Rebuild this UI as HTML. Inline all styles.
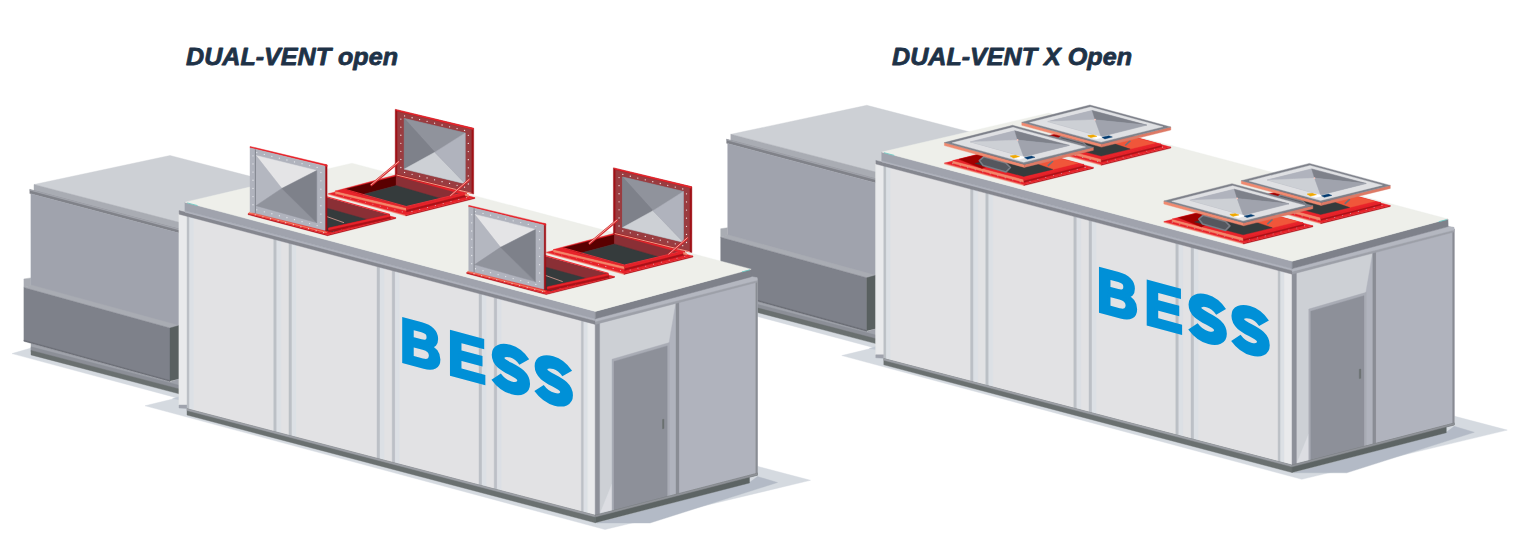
<!DOCTYPE html>
<html><head><meta charset="utf-8"><title>DUAL-VENT</title>
<style>
html,body{margin:0;padding:0;background:#fff;}
body{width:1536px;height:552px;overflow:hidden;position:relative;font-family:"Liberation Sans",sans-serif;}
svg{position:absolute;left:0;top:0;display:block}
</style></head><body>
<svg width="1536" height="552" viewBox="0 0 1536 552">
<rect width="1536" height="552" fill="#ffffff"/>
<g transform="translate(696.8 -50.2)">
<polygon points="12.00,353.60 31.00,348.00 179.00,388.00 179.00,398.40" fill="#d5dae0" stroke="#d5dae0" stroke-width="0.4" stroke-linejoin="round"/>
<polygon points="145.00,405.75 179.00,397.50 600.00,500.00 757.00,466.00 760.00,467.00 810.50,480.30 605.00,529.50" fill="#d5dae0" stroke="#d5dae0" stroke-width="0.4" stroke-linejoin="round"/>
<polygon points="597.00,523.00 650.00,523.00 777.50,482.50 757.50,476.50 749.00,482.75" fill="#b3bac6" stroke="#b3bac6" stroke-width="0.4" stroke-linejoin="round"/>
<polygon points="34.00,184.50 170.00,155.50 330.00,197.00 200.00,228.00" fill="#cdd0d5" stroke="#cdd0d5" stroke-width="0.4" stroke-linejoin="round"/>
<polygon points="34.00,184.50 179.00,222.30 179.00,229.40 34.00,190.90" fill="#a9acb3" stroke="#a9acb3" stroke-width="0.4" stroke-linejoin="round"/>
<polygon points="29.80,189.48 179.00,229.10 179.00,233.10 29.80,193.48" fill="#808289" stroke="#808289" stroke-width="0.4" stroke-linejoin="round"/>
<polygon points="29.80,189.48 179.00,229.10 179.00,229.90 29.80,190.28" fill="#a4a7af" stroke="#a4a7af" stroke-width="0.4" stroke-linejoin="round"/>
<polygon points="30.90,193.78 179.00,233.10 179.00,330.00 30.90,286.00" fill="#a0a3ad" stroke="#a0a3ad" stroke-width="0.4" stroke-linejoin="round"/>
<polygon points="23.90,278.90 30.90,277.90 30.90,285.50 23.90,287.50" fill="#a9acb3" stroke="#a9acb3" stroke-width="0.4" stroke-linejoin="round"/>
<polygon points="23.90,287.50 30.90,284.90 179.00,325.50 179.00,329.00 170.00,328.00" fill="#a9acb3" stroke="#a9acb3" stroke-width="0.4" stroke-linejoin="round"/>
<polygon points="23.90,287.50 170.00,328.00 170.00,381.00 23.90,340.70" fill="#7e818a" stroke="#7e818a" stroke-width="0.4" stroke-linejoin="round"/>
<polygon points="170.00,328.00 179.00,325.50 179.00,379.00 170.00,381.00" fill="#596060" stroke="#596060" stroke-width="0.4" stroke-linejoin="round"/>
<polygon points="31.00,343.20 170.00,381.70 179.00,379.00 179.00,390.00 31.00,351.60" fill="#9fa2aa" stroke="#9fa2aa" stroke-width="0.4" stroke-linejoin="round"/>
<polygon points="31.00,346.80 179.00,385.20 179.00,390.00 31.00,351.60" fill="#8c8f97" stroke="#8c8f97" stroke-width="0.4" stroke-linejoin="round"/>
<polygon points="31.00,350.40 179.00,388.90 179.00,393.80 31.00,354.90" fill="#6a7070" stroke="#6a7070" stroke-width="0.4" stroke-linejoin="round"/>
<polygon points="23.90,340.20 170.00,380.50 170.00,381.60 23.90,341.30" fill="#696c74" stroke="#696c74" stroke-width="0.4" stroke-linejoin="round"/>
<polygon points="172.60,398.60 179.00,396.70 179.00,399.80" fill="#c3cad4" stroke="#c3cad4" stroke-width="0.4" stroke-linejoin="round"/>
<polygon points="179.00,212.00 595.25,320.00 595.25,515.25 187.00,408.75 187.00,405.00 179.00,405.00" fill="#e2e2e4" stroke="#e2e2e4" stroke-width="0.4" stroke-linejoin="round"/>
<polygon points="179.00,213.00 187.00,215.50 187.00,405.00 179.00,405.00" fill="#e9eaec" stroke="#e9eaec" stroke-width="0.4" stroke-linejoin="round"/>
<polygon points="179.00,405.00 187.00,405.00 187.00,408.50 179.00,408.00" fill="#a0a3ad" stroke="#a0a3ad" stroke-width="0.4" stroke-linejoin="round"/>
<polygon points="187.00,215.78 189.50,216.43 189.50,409.40 187.00,408.75" fill="#bcc0c6" stroke="#bcc0c6" stroke-width="0.4" stroke-linejoin="round"/>
<polygon points="189.50,216.43 193.50,217.46 193.50,410.45 189.50,409.40" fill="#dce0e5" stroke="#dce0e5" stroke-width="0.4" stroke-linejoin="round"/>
<polygon points="273.75,238.30 276.75,239.08 276.75,432.17 273.75,431.38" fill="#bcc0c6" stroke="#bcc0c6" stroke-width="0.4" stroke-linejoin="round"/>
<polygon points="276.75,239.08 280.75,240.11 280.75,433.21 276.75,432.17" fill="#dce0e5" stroke="#dce0e5" stroke-width="0.4" stroke-linejoin="round"/>
<polygon points="288.95,242.24 291.95,243.02 291.95,436.13 288.95,435.35" fill="#bcc0c6" stroke="#bcc0c6" stroke-width="0.4" stroke-linejoin="round"/>
<polygon points="291.95,243.02 295.95,244.06 295.95,437.18 291.95,436.13" fill="#dce0e5" stroke="#dce0e5" stroke-width="0.4" stroke-linejoin="round"/>
<polygon points="377.00,265.10 380.00,265.88 380.00,459.10 377.00,458.32" fill="#bcc0c6" stroke="#bcc0c6" stroke-width="0.4" stroke-linejoin="round"/>
<polygon points="380.00,265.88 384.00,266.92 384.00,460.15 380.00,459.10" fill="#dce0e5" stroke="#dce0e5" stroke-width="0.4" stroke-linejoin="round"/>
<polygon points="392.20,269.05 395.20,269.83 395.20,463.07 392.20,462.29" fill="#bcc0c6" stroke="#bcc0c6" stroke-width="0.4" stroke-linejoin="round"/>
<polygon points="395.20,269.83 399.20,270.86 399.20,464.11 395.20,463.07" fill="#dce0e5" stroke="#dce0e5" stroke-width="0.4" stroke-linejoin="round"/>
<polygon points="479.00,291.58 482.00,292.36 482.00,485.72 479.00,484.93" fill="#bcc0c6" stroke="#bcc0c6" stroke-width="0.4" stroke-linejoin="round"/>
<polygon points="482.00,292.36 486.00,293.40 486.00,486.76 482.00,485.72" fill="#dce0e5" stroke="#dce0e5" stroke-width="0.4" stroke-linejoin="round"/>
<polygon points="494.20,295.53 497.20,296.30 497.20,489.68 494.20,488.90" fill="#bcc0c6" stroke="#bcc0c6" stroke-width="0.4" stroke-linejoin="round"/>
<polygon points="497.20,296.30 501.20,297.34 501.20,490.72 497.20,489.68" fill="#dce0e5" stroke="#dce0e5" stroke-width="0.4" stroke-linejoin="round"/>
<polygon points="581.30,318.14 583.80,318.79 583.80,512.28 581.30,511.62" fill="#bcc0c6" stroke="#bcc0c6" stroke-width="0.4" stroke-linejoin="round"/>
<polygon points="583.80,318.79 587.70,319.80 587.70,513.29 583.80,512.28" fill="#dce0e5" stroke="#dce0e5" stroke-width="0.4" stroke-linejoin="round"/>
<polygon points="587.70,319.80 595.40,321.80 595.40,515.30 587.70,513.29" fill="#e9eaec" stroke="#e9eaec" stroke-width="0.4" stroke-linejoin="round"/>
<polygon points="187.00,408.75 595.25,515.25 595.25,522.75 187.00,415.00" fill="#6a7070" stroke="#6a7070" stroke-width="0.4" stroke-linejoin="round"/>
<polygon points="187.00,408.75 595.25,515.25 595.25,517.00 187.00,410.50" fill="#9da0a6" stroke="#9da0a6" stroke-width="0.4" stroke-linejoin="round"/>
<polygon points="595.25,320.50 757.50,279.21 757.50,473.11 595.25,515.25" fill="#cdd0d5" stroke="#cdd0d5" stroke-width="0.4" stroke-linejoin="round"/>
<polygon points="595.25,320.50 599.60,319.39 599.60,514.12 595.25,515.25" fill="#8d9099" stroke="#8d9099" stroke-width="0.4" stroke-linejoin="round"/>
<polygon points="669.00,343.00 676.00,301.95 676.00,494.28 669.00,496.10" fill="#b0b3bd" stroke="#b0b3bd" stroke-width="0.4" stroke-linejoin="round"/>
<polygon points="600.50,512.50 612.00,484.00 612.00,510.00" fill="#dcdde2" stroke="#dcdde2" stroke-width="0.4" stroke-linejoin="round"/>
<polygon points="612.00,359.25 669.50,342.50 669.50,495.97 612.00,510.90" fill="#a9acb5" stroke="#a9acb5" stroke-width="0.4" stroke-linejoin="round"/>
<polygon points="614.00,361.40 667.20,345.90 667.20,496.56 614.00,510.38" fill="#8d9099" stroke="#8d9099" stroke-width="0.4" stroke-linejoin="round"/>
<polygon points="662.50,419.50 664.00,419.20 664.00,428.50 662.50,428.80" fill="#6a7070" stroke="#6a7070" stroke-width="0.4" stroke-linejoin="round"/>
<polygon points="676.00,299.95 679.50,299.06 679.50,493.37 676.00,494.28" fill="#8a8d95" stroke="#8a8d95" stroke-width="0.4" stroke-linejoin="round"/>
<polygon points="679.50,299.06 755.75,279.65 755.75,473.57 679.50,493.37" fill="#b0b3bd" stroke="#b0b3bd" stroke-width="0.4" stroke-linejoin="round"/>
<polygon points="755.75,279.65 757.50,279.21 757.50,473.11 755.75,473.57" fill="#8a8d95" stroke="#8a8d95" stroke-width="0.4" stroke-linejoin="round"/>
<polygon points="595.25,515.25 757.50,473.20 757.50,475.20 749.50,477.30 749.50,482.90 595.25,522.75" fill="#5d6464" stroke="#5d6464" stroke-width="0.4" stroke-linejoin="round"/>
<polygon points="595.25,515.25 757.50,473.20 757.50,475.00 595.25,517.00" fill="#8f9298" stroke="#8f9298" stroke-width="0.4" stroke-linejoin="round"/>
<polygon points="179.10,210.60 595.40,318.60 595.40,324.40 179.10,214.20" fill="#85878f" stroke="#85878f" stroke-width="0.4" stroke-linejoin="round"/>
<polygon points="185.00,210.30 595.40,318.60 595.40,320.80 185.00,212.20" fill="#b0b3bd" stroke="#b0b3bd" stroke-width="0.4" stroke-linejoin="round"/>
<polygon points="595.40,318.60 751.40,276.70 757.20,277.70 757.20,282.20 595.40,324.40" fill="#9da0a8" stroke="#9da0a8" stroke-width="0.4" stroke-linejoin="round"/>
<polygon points="595.40,318.60 751.40,276.70 757.20,277.70 757.20,280.30 595.40,321.60" fill="#b4b7c0" stroke="#b4b7c0" stroke-width="0.4" stroke-linejoin="round"/>
<polygon points="184.90,202.20 595.40,311.40 595.40,318.80 184.90,210.60" fill="#a0a3ad" stroke="#a0a3ad" stroke-width="0.4" stroke-linejoin="round"/>
<polygon points="595.40,311.40 751.20,269.20 751.40,276.80 595.40,318.80" fill="#7e818a" stroke="#7e818a" stroke-width="0.4" stroke-linejoin="round"/>
<polygon points="184.90,202.20 352.00,163.20 751.20,269.20 595.40,311.40" fill="#eeefea" stroke="#eeefea" stroke-width="0.4" stroke-linejoin="round"/>
<line x1="187.20" y1="202.90" x2="197.50" y2="205.60" stroke="#62c8c2" stroke-width="0.8" />
<line x1="742.00" y1="271.90" x2="750.00" y2="269.80" stroke="#62c8c2" stroke-width="0.8" />
<text transform="matrix(0.927 0.2466 0 1 399.9 360.70)" font-family="Liberation Sans, sans-serif" font-weight="700" font-size="61.8" fill="#0090d7" stroke="#0090d7" stroke-width="3.5" stroke-linejoin="miter">B</text>
<text transform="matrix(0.927 0.2466 0 1 447.7 373.41)" font-family="Liberation Sans, sans-serif" font-weight="700" font-size="61.8" fill="#0090d7" stroke="#0090d7" stroke-width="3.5" stroke-linejoin="miter">E</text>
<path transform="matrix(1.035 0.2753 0 1.04 491.59999999999997 388.29)" d="M 31.6,-33.6 C 27.6,-38.4 23.0,-40.5 18.2,-40.5 C 11.0,-40.5 6.3,-37.2 6.3,-32.4 C 6.3,-27.0 10.8,-25.3 18.4,-23.5 C 26.4,-21.6 31.0,-19.6 31.0,-14.0 C 31.0,-8.8 26.2,-5.5 19.2,-5.5 C 13.2,-5.5 8.6,-7.8 4.4,-12.4" fill="none" stroke="#0090d7" stroke-width="12.3" stroke-linecap="butt"/>
<path transform="matrix(1.035 0.2753 0 1.04 534.5 399.70)" d="M 31.6,-33.6 C 27.6,-38.4 23.0,-40.5 18.2,-40.5 C 11.0,-40.5 6.3,-37.2 6.3,-32.4 C 6.3,-27.0 10.8,-25.3 18.4,-23.5 C 26.4,-21.6 31.0,-19.6 31.0,-14.0 C 31.0,-8.8 26.2,-5.5 19.2,-5.5 C 13.2,-5.5 8.6,-7.8 4.4,-12.4" fill="none" stroke="#0090d7" stroke-width="12.3" stroke-linecap="butt"/>
</g>
<polygon points="1021.80,142.80 1101.30,164.30 1101.30,165.30 1021.80,143.80" fill="#f4907a" stroke="#f4907a" stroke-width="0.4" stroke-linejoin="round"/>
<polygon points="1101.30,164.30 1170.80,147.10 1170.80,148.10 1101.30,165.30" fill="#b01218" stroke="#b01218" stroke-width="0.4" stroke-linejoin="round"/>
<polygon points="1021.80,142.80 1101.30,164.30 1170.80,147.10 1091.30,125.60" fill="#e8232a" stroke="#e8232a" stroke-width="0.4" stroke-linejoin="round"/>
<circle cx="1030.15" cy="143.40" r="0.6" fill="#b9a9ad"/>
<circle cx="1037.65" cy="145.40" r="0.6" fill="#b9a9ad"/>
<circle cx="1045.15" cy="147.40" r="0.6" fill="#b9a9ad"/>
<circle cx="1052.65" cy="149.40" r="0.6" fill="#b9a9ad"/>
<circle cx="1060.15" cy="151.40" r="0.6" fill="#b9a9ad"/>
<circle cx="1067.65" cy="153.40" r="0.6" fill="#b9a9ad"/>
<circle cx="1075.15" cy="155.40" r="0.6" fill="#b9a9ad"/>
<circle cx="1082.65" cy="157.40" r="0.6" fill="#b9a9ad"/>
<circle cx="1090.15" cy="159.40" r="0.6" fill="#b9a9ad"/>
<circle cx="1097.65" cy="161.40" r="0.6" fill="#b9a9ad"/>
<circle cx="1107.34" cy="160.91" r="0.55" fill="#c9b9bd"/>
<circle cx="1115.21" cy="158.94" r="0.55" fill="#c9b9bd"/>
<circle cx="1123.09" cy="156.96" r="0.55" fill="#c9b9bd"/>
<circle cx="1130.96" cy="154.99" r="0.55" fill="#c9b9bd"/>
<circle cx="1138.84" cy="153.01" r="0.55" fill="#c9b9bd"/>
<circle cx="1146.71" cy="151.04" r="0.55" fill="#c9b9bd"/>
<circle cx="1154.59" cy="149.06" r="0.55" fill="#c9b9bd"/>
<circle cx="1162.46" cy="147.09" r="0.55" fill="#c9b9bd"/>
<polygon points="1030.10,140.30 1101.30,159.10 1101.30,162.00 1030.10,142.90" fill="#f4866a" stroke="#f4866a" stroke-width="0.4" stroke-linejoin="round"/>
<polygon points="1101.30,159.10 1160.90,144.10 1161.70,146.70 1101.30,162.10" fill="#a81218" stroke="#a81218" stroke-width="0.4" stroke-linejoin="round"/>
<polygon points="1101.30,159.10 1160.90,144.10 1160.90,145.30 1101.30,160.30" fill="#e8232a" stroke="#e8232a" stroke-width="0.4" stroke-linejoin="round"/>
<polygon points="1030.10,140.30 1101.30,159.10 1160.90,144.10 1089.70,125.30" fill="#e8232a" stroke="#e8232a" stroke-width="0.4" stroke-linejoin="round"/>
<polygon points="1036.40,139.00 1090.70,125.80 1090.70,133.80 1059.40,148.20" fill="#a00000" stroke="#a00000" stroke-width="0.4" stroke-linejoin="round"/>
<polygon points="1090.70,125.80 1155.40,142.90 1130.20,149.10 1090.70,137.80" fill="#f0563a" stroke="#f0563a" stroke-width="0.4" stroke-linejoin="round"/>
<polygon points="1052.40,143.20 1090.40,133.20 1117.40,144.70 1130.20,149.10 1101.10,156.10" fill="#353b3c" stroke="#353b3c" stroke-width="0.4" stroke-linejoin="round"/>
<polygon points="1056.70,140.30 1061.10,136.50 1083.40,142.80 1087.80,147.20 1083.40,151.70 1060.50,145.30" fill="#54575e" stroke="#7a7d85" stroke-width="1.6" stroke-linejoin="round"/>
<line x1="1125.20" y1="145.50" x2="1130.40" y2="140.70" stroke="#6f727a" stroke-width="1.6" />
<polygon points="1021.80,122.30 1101.70,144.10 1101.70,147.10 1021.80,125.30" fill="#f08a70" stroke="#f08a70" stroke-width="0.4" stroke-linejoin="round"/>
<polygon points="1101.70,144.10 1170.80,127.00 1170.80,130.00 1101.70,147.10" fill="#dd7a66" stroke="#dd7a66" stroke-width="0.4" stroke-linejoin="round"/>
<polygon points="1021.80,122.30 1089.90,105.00 1170.80,127.00 1101.70,144.10" fill="#7e818a" stroke="#7e818a" stroke-width="0.4" stroke-linejoin="round"/>
<polygon points="1029.60,122.54 1090.55,107.06 1162.95,126.75 1101.11,142.05" fill="#dfe0e3" stroke="#dfe0e3" stroke-width="0.4" stroke-linejoin="round"/>
<polygon points="1047.80,121.60 1092.20,110.50 1146.70,125.10 1101.10,136.50" fill="#b0b3bd" stroke="#b0b3bd" stroke-width="0.4" stroke-linejoin="round"/>
<polygon points="1047.80,121.60 1092.20,110.50 1095.00,119.70" fill="#b0b3bd" stroke="#b0b3bd" stroke-width="0.4" stroke-linejoin="round"/>
<polygon points="1092.20,110.50 1146.70,125.10 1095.00,119.70" fill="#7e818a" stroke="#7e818a" stroke-width="0.4" stroke-linejoin="round"/>
<polygon points="1047.80,121.60 1101.10,136.50 1095.00,119.70" fill="#cdd0d5" stroke="#cdd0d5" stroke-width="0.4" stroke-linejoin="round"/>
<polygon points="1101.10,136.50 1146.70,125.10 1095.00,119.70" fill="#a0a3ad" stroke="#a0a3ad" stroke-width="0.4" stroke-linejoin="round"/>
<circle cx="1095.00" cy="119.70" r="0.9" fill="#f6c6c0"/>
<polygon points="1087.80,135.70 1093.40,135.10 1097.00,136.30 1091.20,137.60" fill="#f0a800" stroke="#f0a800" stroke-width="0.4" stroke-linejoin="round"/>
<polygon points="1093.40,135.10 1097.00,136.30 1091.20,137.60 1096.40,139.10 1103.20,137.30 1099.40,136.00" fill="#ffffff" stroke="#ffffff" stroke-width="0.4" stroke-linejoin="round"/>
<polygon points="1087.80,135.70 1093.40,135.10 1097.00,136.30 1091.20,137.60" fill="#f0a800" stroke="#f0a800" stroke-width="0.4" stroke-linejoin="round"/>
<polygon points="1101.90,137.30 1108.90,135.70 1112.40,137.00 1104.90,138.90" fill="#003a70" stroke="#003a70" stroke-width="0.4" stroke-linejoin="round"/>
<polygon points="944.40,163.10 1023.90,184.60 1023.90,185.60 944.40,164.10" fill="#f4907a" stroke="#f4907a" stroke-width="0.4" stroke-linejoin="round"/>
<polygon points="1023.90,184.60 1093.40,167.40 1093.40,168.40 1023.90,185.60" fill="#b01218" stroke="#b01218" stroke-width="0.4" stroke-linejoin="round"/>
<polygon points="944.40,163.10 1023.90,184.60 1093.40,167.40 1013.90,145.90" fill="#e8232a" stroke="#e8232a" stroke-width="0.4" stroke-linejoin="round"/>
<circle cx="952.75" cy="163.70" r="0.6" fill="#b9a9ad"/>
<circle cx="960.25" cy="165.70" r="0.6" fill="#b9a9ad"/>
<circle cx="967.75" cy="167.70" r="0.6" fill="#b9a9ad"/>
<circle cx="975.25" cy="169.70" r="0.6" fill="#b9a9ad"/>
<circle cx="982.75" cy="171.70" r="0.6" fill="#b9a9ad"/>
<circle cx="990.25" cy="173.70" r="0.6" fill="#b9a9ad"/>
<circle cx="997.75" cy="175.70" r="0.6" fill="#b9a9ad"/>
<circle cx="1005.25" cy="177.70" r="0.6" fill="#b9a9ad"/>
<circle cx="1012.75" cy="179.70" r="0.6" fill="#b9a9ad"/>
<circle cx="1020.25" cy="181.70" r="0.6" fill="#b9a9ad"/>
<circle cx="1029.94" cy="181.21" r="0.55" fill="#c9b9bd"/>
<circle cx="1037.81" cy="179.24" r="0.55" fill="#c9b9bd"/>
<circle cx="1045.69" cy="177.26" r="0.55" fill="#c9b9bd"/>
<circle cx="1053.56" cy="175.29" r="0.55" fill="#c9b9bd"/>
<circle cx="1061.44" cy="173.31" r="0.55" fill="#c9b9bd"/>
<circle cx="1069.31" cy="171.34" r="0.55" fill="#c9b9bd"/>
<circle cx="1077.19" cy="169.36" r="0.55" fill="#c9b9bd"/>
<circle cx="1085.06" cy="167.39" r="0.55" fill="#c9b9bd"/>
<polygon points="952.70,160.60 1023.90,179.40 1023.90,182.30 952.70,163.20" fill="#f4866a" stroke="#f4866a" stroke-width="0.4" stroke-linejoin="round"/>
<polygon points="1023.90,179.40 1083.50,164.40 1084.30,167.00 1023.90,182.40" fill="#a81218" stroke="#a81218" stroke-width="0.4" stroke-linejoin="round"/>
<polygon points="1023.90,179.40 1083.50,164.40 1083.50,165.60 1023.90,180.60" fill="#e8232a" stroke="#e8232a" stroke-width="0.4" stroke-linejoin="round"/>
<polygon points="952.70,160.60 1023.90,179.40 1083.50,164.40 1012.30,145.60" fill="#e8232a" stroke="#e8232a" stroke-width="0.4" stroke-linejoin="round"/>
<polygon points="959.00,159.30 1013.30,146.10 1013.30,154.10 982.00,168.50" fill="#a00000" stroke="#a00000" stroke-width="0.4" stroke-linejoin="round"/>
<polygon points="1013.30,146.10 1078.00,163.20 1052.80,169.40 1013.30,158.10" fill="#f0563a" stroke="#f0563a" stroke-width="0.4" stroke-linejoin="round"/>
<polygon points="975.00,163.50 1013.00,153.50 1040.00,165.00 1052.80,169.40 1023.70,176.40" fill="#353b3c" stroke="#353b3c" stroke-width="0.4" stroke-linejoin="round"/>
<polygon points="979.30,160.60 983.70,156.80 1006.00,163.10 1010.40,167.50 1006.00,172.00 983.10,165.60" fill="#54575e" stroke="#7a7d85" stroke-width="1.6" stroke-linejoin="round"/>
<line x1="1047.80" y1="165.80" x2="1053.00" y2="161.00" stroke="#6f727a" stroke-width="1.6" />
<polygon points="944.40,142.60 1024.30,164.40 1024.30,167.40 944.40,145.60" fill="#f08a70" stroke="#f08a70" stroke-width="0.4" stroke-linejoin="round"/>
<polygon points="1024.30,164.40 1093.40,147.30 1093.40,150.30 1024.30,167.40" fill="#dd7a66" stroke="#dd7a66" stroke-width="0.4" stroke-linejoin="round"/>
<polygon points="944.40,142.60 1012.50,125.30 1093.40,147.30 1024.30,164.40" fill="#7e818a" stroke="#7e818a" stroke-width="0.4" stroke-linejoin="round"/>
<polygon points="952.20,142.84 1013.15,127.36 1085.55,147.05 1023.71,162.35" fill="#dfe0e3" stroke="#dfe0e3" stroke-width="0.4" stroke-linejoin="round"/>
<polygon points="970.40,141.90 1014.80,130.80 1069.30,145.40 1023.70,156.80" fill="#b0b3bd" stroke="#b0b3bd" stroke-width="0.4" stroke-linejoin="round"/>
<polygon points="970.40,141.90 1014.80,130.80 1017.60,140.00" fill="#b0b3bd" stroke="#b0b3bd" stroke-width="0.4" stroke-linejoin="round"/>
<polygon points="1014.80,130.80 1069.30,145.40 1017.60,140.00" fill="#7e818a" stroke="#7e818a" stroke-width="0.4" stroke-linejoin="round"/>
<polygon points="970.40,141.90 1023.70,156.80 1017.60,140.00" fill="#cdd0d5" stroke="#cdd0d5" stroke-width="0.4" stroke-linejoin="round"/>
<polygon points="1023.70,156.80 1069.30,145.40 1017.60,140.00" fill="#a0a3ad" stroke="#a0a3ad" stroke-width="0.4" stroke-linejoin="round"/>
<circle cx="1017.60" cy="140.00" r="0.9" fill="#f6c6c0"/>
<polygon points="1010.40,156.00 1016.00,155.40 1019.60,156.60 1013.80,157.90" fill="#f0a800" stroke="#f0a800" stroke-width="0.4" stroke-linejoin="round"/>
<polygon points="1016.00,155.40 1019.60,156.60 1013.80,157.90 1019.00,159.40 1025.80,157.60 1022.00,156.30" fill="#ffffff" stroke="#ffffff" stroke-width="0.4" stroke-linejoin="round"/>
<polygon points="1010.40,156.00 1016.00,155.40 1019.60,156.60 1013.80,157.90" fill="#f0a800" stroke="#f0a800" stroke-width="0.4" stroke-linejoin="round"/>
<polygon points="1024.50,157.60 1031.50,156.00 1035.00,157.30 1027.50,159.20" fill="#003a70" stroke="#003a70" stroke-width="0.4" stroke-linejoin="round"/>
<polygon points="1241.30,201.20 1320.80,222.70 1320.80,223.70 1241.30,202.20" fill="#f4907a" stroke="#f4907a" stroke-width="0.4" stroke-linejoin="round"/>
<polygon points="1320.80,222.70 1390.30,205.50 1390.30,206.50 1320.80,223.70" fill="#b01218" stroke="#b01218" stroke-width="0.4" stroke-linejoin="round"/>
<polygon points="1241.30,201.20 1320.80,222.70 1390.30,205.50 1310.80,184.00" fill="#e8232a" stroke="#e8232a" stroke-width="0.4" stroke-linejoin="round"/>
<circle cx="1249.65" cy="201.80" r="0.6" fill="#b9a9ad"/>
<circle cx="1257.15" cy="203.80" r="0.6" fill="#b9a9ad"/>
<circle cx="1264.65" cy="205.80" r="0.6" fill="#b9a9ad"/>
<circle cx="1272.15" cy="207.80" r="0.6" fill="#b9a9ad"/>
<circle cx="1279.65" cy="209.80" r="0.6" fill="#b9a9ad"/>
<circle cx="1287.15" cy="211.80" r="0.6" fill="#b9a9ad"/>
<circle cx="1294.65" cy="213.80" r="0.6" fill="#b9a9ad"/>
<circle cx="1302.15" cy="215.80" r="0.6" fill="#b9a9ad"/>
<circle cx="1309.65" cy="217.80" r="0.6" fill="#b9a9ad"/>
<circle cx="1317.15" cy="219.80" r="0.6" fill="#b9a9ad"/>
<circle cx="1326.84" cy="219.31" r="0.55" fill="#c9b9bd"/>
<circle cx="1334.71" cy="217.34" r="0.55" fill="#c9b9bd"/>
<circle cx="1342.59" cy="215.36" r="0.55" fill="#c9b9bd"/>
<circle cx="1350.46" cy="213.39" r="0.55" fill="#c9b9bd"/>
<circle cx="1358.34" cy="211.41" r="0.55" fill="#c9b9bd"/>
<circle cx="1366.21" cy="209.44" r="0.55" fill="#c9b9bd"/>
<circle cx="1374.09" cy="207.46" r="0.55" fill="#c9b9bd"/>
<circle cx="1381.96" cy="205.49" r="0.55" fill="#c9b9bd"/>
<polygon points="1249.60,198.70 1320.80,217.50 1320.80,220.40 1249.60,201.30" fill="#f4866a" stroke="#f4866a" stroke-width="0.4" stroke-linejoin="round"/>
<polygon points="1320.80,217.50 1380.40,202.50 1381.20,205.10 1320.80,220.50" fill="#a81218" stroke="#a81218" stroke-width="0.4" stroke-linejoin="round"/>
<polygon points="1320.80,217.50 1380.40,202.50 1380.40,203.70 1320.80,218.70" fill="#e8232a" stroke="#e8232a" stroke-width="0.4" stroke-linejoin="round"/>
<polygon points="1249.60,198.70 1320.80,217.50 1380.40,202.50 1309.20,183.70" fill="#e8232a" stroke="#e8232a" stroke-width="0.4" stroke-linejoin="round"/>
<polygon points="1255.90,197.40 1310.20,184.20 1310.20,192.20 1278.90,206.60" fill="#a00000" stroke="#a00000" stroke-width="0.4" stroke-linejoin="round"/>
<polygon points="1310.20,184.20 1374.90,201.30 1349.70,207.50 1310.20,196.20" fill="#f0563a" stroke="#f0563a" stroke-width="0.4" stroke-linejoin="round"/>
<polygon points="1271.90,201.60 1309.90,191.60 1336.90,203.10 1349.70,207.50 1320.60,214.50" fill="#353b3c" stroke="#353b3c" stroke-width="0.4" stroke-linejoin="round"/>
<polygon points="1276.20,198.70 1280.60,194.90 1302.90,201.20 1307.30,205.60 1302.90,210.10 1280.00,203.70" fill="#54575e" stroke="#7a7d85" stroke-width="1.6" stroke-linejoin="round"/>
<line x1="1344.70" y1="203.90" x2="1349.90" y2="199.10" stroke="#6f727a" stroke-width="1.6" />
<polygon points="1241.30,180.70 1321.20,202.50 1321.20,205.50 1241.30,183.70" fill="#f08a70" stroke="#f08a70" stroke-width="0.4" stroke-linejoin="round"/>
<polygon points="1321.20,202.50 1390.30,185.40 1390.30,188.40 1321.20,205.50" fill="#dd7a66" stroke="#dd7a66" stroke-width="0.4" stroke-linejoin="round"/>
<polygon points="1241.30,180.70 1309.40,163.40 1390.30,185.40 1321.20,202.50" fill="#7e818a" stroke="#7e818a" stroke-width="0.4" stroke-linejoin="round"/>
<polygon points="1249.10,180.94 1310.05,165.46 1382.45,185.15 1320.61,200.45" fill="#dfe0e3" stroke="#dfe0e3" stroke-width="0.4" stroke-linejoin="round"/>
<polygon points="1267.30,180.00 1311.70,168.90 1366.20,183.50 1320.60,194.90" fill="#b0b3bd" stroke="#b0b3bd" stroke-width="0.4" stroke-linejoin="round"/>
<polygon points="1267.30,180.00 1311.70,168.90 1314.50,178.10" fill="#b0b3bd" stroke="#b0b3bd" stroke-width="0.4" stroke-linejoin="round"/>
<polygon points="1311.70,168.90 1366.20,183.50 1314.50,178.10" fill="#7e818a" stroke="#7e818a" stroke-width="0.4" stroke-linejoin="round"/>
<polygon points="1267.30,180.00 1320.60,194.90 1314.50,178.10" fill="#cdd0d5" stroke="#cdd0d5" stroke-width="0.4" stroke-linejoin="round"/>
<polygon points="1320.60,194.90 1366.20,183.50 1314.50,178.10" fill="#a0a3ad" stroke="#a0a3ad" stroke-width="0.4" stroke-linejoin="round"/>
<circle cx="1314.50" cy="178.10" r="0.9" fill="#f6c6c0"/>
<polygon points="1307.30,194.10 1312.90,193.50 1316.50,194.70 1310.70,196.00" fill="#f0a800" stroke="#f0a800" stroke-width="0.4" stroke-linejoin="round"/>
<polygon points="1312.90,193.50 1316.50,194.70 1310.70,196.00 1315.90,197.50 1322.70,195.70 1318.90,194.40" fill="#ffffff" stroke="#ffffff" stroke-width="0.4" stroke-linejoin="round"/>
<polygon points="1307.30,194.10 1312.90,193.50 1316.50,194.70 1310.70,196.00" fill="#f0a800" stroke="#f0a800" stroke-width="0.4" stroke-linejoin="round"/>
<polygon points="1321.40,195.70 1328.40,194.10 1331.90,195.40 1324.40,197.30" fill="#003a70" stroke="#003a70" stroke-width="0.4" stroke-linejoin="round"/>
<polygon points="1163.90,221.50 1243.40,243.00 1243.40,244.00 1163.90,222.50" fill="#f4907a" stroke="#f4907a" stroke-width="0.4" stroke-linejoin="round"/>
<polygon points="1243.40,243.00 1312.90,225.80 1312.90,226.80 1243.40,244.00" fill="#b01218" stroke="#b01218" stroke-width="0.4" stroke-linejoin="round"/>
<polygon points="1163.90,221.50 1243.40,243.00 1312.90,225.80 1233.40,204.30" fill="#e8232a" stroke="#e8232a" stroke-width="0.4" stroke-linejoin="round"/>
<circle cx="1172.25" cy="222.10" r="0.6" fill="#b9a9ad"/>
<circle cx="1179.75" cy="224.10" r="0.6" fill="#b9a9ad"/>
<circle cx="1187.25" cy="226.10" r="0.6" fill="#b9a9ad"/>
<circle cx="1194.75" cy="228.10" r="0.6" fill="#b9a9ad"/>
<circle cx="1202.25" cy="230.10" r="0.6" fill="#b9a9ad"/>
<circle cx="1209.75" cy="232.10" r="0.6" fill="#b9a9ad"/>
<circle cx="1217.25" cy="234.10" r="0.6" fill="#b9a9ad"/>
<circle cx="1224.75" cy="236.10" r="0.6" fill="#b9a9ad"/>
<circle cx="1232.25" cy="238.10" r="0.6" fill="#b9a9ad"/>
<circle cx="1239.75" cy="240.10" r="0.6" fill="#b9a9ad"/>
<circle cx="1249.44" cy="239.61" r="0.55" fill="#c9b9bd"/>
<circle cx="1257.31" cy="237.64" r="0.55" fill="#c9b9bd"/>
<circle cx="1265.19" cy="235.66" r="0.55" fill="#c9b9bd"/>
<circle cx="1273.06" cy="233.69" r="0.55" fill="#c9b9bd"/>
<circle cx="1280.94" cy="231.71" r="0.55" fill="#c9b9bd"/>
<circle cx="1288.81" cy="229.74" r="0.55" fill="#c9b9bd"/>
<circle cx="1296.69" cy="227.76" r="0.55" fill="#c9b9bd"/>
<circle cx="1304.56" cy="225.79" r="0.55" fill="#c9b9bd"/>
<polygon points="1172.20,219.00 1243.40,237.80 1243.40,240.70 1172.20,221.60" fill="#f4866a" stroke="#f4866a" stroke-width="0.4" stroke-linejoin="round"/>
<polygon points="1243.40,237.80 1303.00,222.80 1303.80,225.40 1243.40,240.80" fill="#a81218" stroke="#a81218" stroke-width="0.4" stroke-linejoin="round"/>
<polygon points="1243.40,237.80 1303.00,222.80 1303.00,224.00 1243.40,239.00" fill="#e8232a" stroke="#e8232a" stroke-width="0.4" stroke-linejoin="round"/>
<polygon points="1172.20,219.00 1243.40,237.80 1303.00,222.80 1231.80,204.00" fill="#e8232a" stroke="#e8232a" stroke-width="0.4" stroke-linejoin="round"/>
<polygon points="1178.50,217.70 1232.80,204.50 1232.80,212.50 1201.50,226.90" fill="#a00000" stroke="#a00000" stroke-width="0.4" stroke-linejoin="round"/>
<polygon points="1232.80,204.50 1297.50,221.60 1272.30,227.80 1232.80,216.50" fill="#f0563a" stroke="#f0563a" stroke-width="0.4" stroke-linejoin="round"/>
<polygon points="1194.50,221.90 1232.50,211.90 1259.50,223.40 1272.30,227.80 1243.20,234.80" fill="#353b3c" stroke="#353b3c" stroke-width="0.4" stroke-linejoin="round"/>
<polygon points="1198.80,219.00 1203.20,215.20 1225.50,221.50 1229.90,225.90 1225.50,230.40 1202.60,224.00" fill="#54575e" stroke="#7a7d85" stroke-width="1.6" stroke-linejoin="round"/>
<line x1="1267.30" y1="224.20" x2="1272.50" y2="219.40" stroke="#6f727a" stroke-width="1.6" />
<polygon points="1163.90,201.00 1243.80,222.80 1243.80,225.80 1163.90,204.00" fill="#f08a70" stroke="#f08a70" stroke-width="0.4" stroke-linejoin="round"/>
<polygon points="1243.80,222.80 1312.90,205.70 1312.90,208.70 1243.80,225.80" fill="#dd7a66" stroke="#dd7a66" stroke-width="0.4" stroke-linejoin="round"/>
<polygon points="1163.90,201.00 1232.00,183.70 1312.90,205.70 1243.80,222.80" fill="#7e818a" stroke="#7e818a" stroke-width="0.4" stroke-linejoin="round"/>
<polygon points="1171.70,201.24 1232.65,185.76 1305.05,205.45 1243.21,220.75" fill="#dfe0e3" stroke="#dfe0e3" stroke-width="0.4" stroke-linejoin="round"/>
<polygon points="1189.90,200.30 1234.30,189.20 1288.80,203.80 1243.20,215.20" fill="#b0b3bd" stroke="#b0b3bd" stroke-width="0.4" stroke-linejoin="round"/>
<polygon points="1189.90,200.30 1234.30,189.20 1237.10,198.40" fill="#b0b3bd" stroke="#b0b3bd" stroke-width="0.4" stroke-linejoin="round"/>
<polygon points="1234.30,189.20 1288.80,203.80 1237.10,198.40" fill="#7e818a" stroke="#7e818a" stroke-width="0.4" stroke-linejoin="round"/>
<polygon points="1189.90,200.30 1243.20,215.20 1237.10,198.40" fill="#cdd0d5" stroke="#cdd0d5" stroke-width="0.4" stroke-linejoin="round"/>
<polygon points="1243.20,215.20 1288.80,203.80 1237.10,198.40" fill="#a0a3ad" stroke="#a0a3ad" stroke-width="0.4" stroke-linejoin="round"/>
<circle cx="1237.10" cy="198.40" r="0.9" fill="#f6c6c0"/>
<polygon points="1229.90,214.40 1235.50,213.80 1239.10,215.00 1233.30,216.30" fill="#f0a800" stroke="#f0a800" stroke-width="0.4" stroke-linejoin="round"/>
<polygon points="1235.50,213.80 1239.10,215.00 1233.30,216.30 1238.50,217.80 1245.30,216.00 1241.50,214.70" fill="#ffffff" stroke="#ffffff" stroke-width="0.4" stroke-linejoin="round"/>
<polygon points="1229.90,214.40 1235.50,213.80 1239.10,215.00 1233.30,216.30" fill="#f0a800" stroke="#f0a800" stroke-width="0.4" stroke-linejoin="round"/>
<polygon points="1244.00,216.00 1251.00,214.40 1254.50,215.70 1247.00,217.60" fill="#003a70" stroke="#003a70" stroke-width="0.4" stroke-linejoin="round"/>
<g>
<polygon points="12.00,353.60 31.00,348.00 179.00,388.00 179.00,398.40" fill="#d5dae0" stroke="#d5dae0" stroke-width="0.4" stroke-linejoin="round"/>
<polygon points="145.00,405.75 179.00,397.50 600.00,500.00 757.00,466.00 760.00,467.00 810.50,480.30 605.00,529.50" fill="#d5dae0" stroke="#d5dae0" stroke-width="0.4" stroke-linejoin="round"/>
<polygon points="597.00,523.00 650.00,523.00 777.50,482.50 757.50,476.50 749.00,482.75" fill="#b3bac6" stroke="#b3bac6" stroke-width="0.4" stroke-linejoin="round"/>
<polygon points="34.00,184.50 170.00,155.50 330.00,197.00 200.00,228.00" fill="#cdd0d5" stroke="#cdd0d5" stroke-width="0.4" stroke-linejoin="round"/>
<polygon points="34.00,184.50 179.00,222.30 179.00,229.40 34.00,190.90" fill="#a9acb3" stroke="#a9acb3" stroke-width="0.4" stroke-linejoin="round"/>
<polygon points="29.80,189.48 179.00,229.10 179.00,233.10 29.80,193.48" fill="#808289" stroke="#808289" stroke-width="0.4" stroke-linejoin="round"/>
<polygon points="29.80,189.48 179.00,229.10 179.00,229.90 29.80,190.28" fill="#a4a7af" stroke="#a4a7af" stroke-width="0.4" stroke-linejoin="round"/>
<polygon points="30.90,193.78 179.00,233.10 179.00,330.00 30.90,286.00" fill="#a0a3ad" stroke="#a0a3ad" stroke-width="0.4" stroke-linejoin="round"/>
<polygon points="23.90,278.90 30.90,277.90 30.90,285.50 23.90,287.50" fill="#a9acb3" stroke="#a9acb3" stroke-width="0.4" stroke-linejoin="round"/>
<polygon points="23.90,287.50 30.90,284.90 179.00,325.50 179.00,329.00 170.00,328.00" fill="#a9acb3" stroke="#a9acb3" stroke-width="0.4" stroke-linejoin="round"/>
<polygon points="23.90,287.50 170.00,328.00 170.00,381.00 23.90,340.70" fill="#7e818a" stroke="#7e818a" stroke-width="0.4" stroke-linejoin="round"/>
<polygon points="170.00,328.00 179.00,325.50 179.00,379.00 170.00,381.00" fill="#596060" stroke="#596060" stroke-width="0.4" stroke-linejoin="round"/>
<polygon points="31.00,343.20 170.00,381.70 179.00,379.00 179.00,390.00 31.00,351.60" fill="#9fa2aa" stroke="#9fa2aa" stroke-width="0.4" stroke-linejoin="round"/>
<polygon points="31.00,346.80 179.00,385.20 179.00,390.00 31.00,351.60" fill="#8c8f97" stroke="#8c8f97" stroke-width="0.4" stroke-linejoin="round"/>
<polygon points="31.00,350.40 179.00,388.90 179.00,393.80 31.00,354.90" fill="#6a7070" stroke="#6a7070" stroke-width="0.4" stroke-linejoin="round"/>
<polygon points="23.90,340.20 170.00,380.50 170.00,381.60 23.90,341.30" fill="#696c74" stroke="#696c74" stroke-width="0.4" stroke-linejoin="round"/>
<polygon points="172.60,398.60 179.00,396.70 179.00,399.80" fill="#c3cad4" stroke="#c3cad4" stroke-width="0.4" stroke-linejoin="round"/>
<polygon points="179.00,212.00 595.25,320.00 595.25,515.25 187.00,408.75 187.00,405.00 179.00,405.00" fill="#e2e2e4" stroke="#e2e2e4" stroke-width="0.4" stroke-linejoin="round"/>
<polygon points="179.00,213.00 187.00,215.50 187.00,405.00 179.00,405.00" fill="#e9eaec" stroke="#e9eaec" stroke-width="0.4" stroke-linejoin="round"/>
<polygon points="179.00,405.00 187.00,405.00 187.00,408.50 179.00,408.00" fill="#a0a3ad" stroke="#a0a3ad" stroke-width="0.4" stroke-linejoin="round"/>
<polygon points="187.00,215.78 189.50,216.43 189.50,409.40 187.00,408.75" fill="#bcc0c6" stroke="#bcc0c6" stroke-width="0.4" stroke-linejoin="round"/>
<polygon points="189.50,216.43 193.50,217.46 193.50,410.45 189.50,409.40" fill="#dce0e5" stroke="#dce0e5" stroke-width="0.4" stroke-linejoin="round"/>
<polygon points="273.75,238.30 276.75,239.08 276.75,432.17 273.75,431.38" fill="#bcc0c6" stroke="#bcc0c6" stroke-width="0.4" stroke-linejoin="round"/>
<polygon points="276.75,239.08 280.75,240.11 280.75,433.21 276.75,432.17" fill="#dce0e5" stroke="#dce0e5" stroke-width="0.4" stroke-linejoin="round"/>
<polygon points="288.95,242.24 291.95,243.02 291.95,436.13 288.95,435.35" fill="#bcc0c6" stroke="#bcc0c6" stroke-width="0.4" stroke-linejoin="round"/>
<polygon points="291.95,243.02 295.95,244.06 295.95,437.18 291.95,436.13" fill="#dce0e5" stroke="#dce0e5" stroke-width="0.4" stroke-linejoin="round"/>
<polygon points="377.00,265.10 380.00,265.88 380.00,459.10 377.00,458.32" fill="#bcc0c6" stroke="#bcc0c6" stroke-width="0.4" stroke-linejoin="round"/>
<polygon points="380.00,265.88 384.00,266.92 384.00,460.15 380.00,459.10" fill="#dce0e5" stroke="#dce0e5" stroke-width="0.4" stroke-linejoin="round"/>
<polygon points="392.20,269.05 395.20,269.83 395.20,463.07 392.20,462.29" fill="#bcc0c6" stroke="#bcc0c6" stroke-width="0.4" stroke-linejoin="round"/>
<polygon points="395.20,269.83 399.20,270.86 399.20,464.11 395.20,463.07" fill="#dce0e5" stroke="#dce0e5" stroke-width="0.4" stroke-linejoin="round"/>
<polygon points="479.00,291.58 482.00,292.36 482.00,485.72 479.00,484.93" fill="#bcc0c6" stroke="#bcc0c6" stroke-width="0.4" stroke-linejoin="round"/>
<polygon points="482.00,292.36 486.00,293.40 486.00,486.76 482.00,485.72" fill="#dce0e5" stroke="#dce0e5" stroke-width="0.4" stroke-linejoin="round"/>
<polygon points="494.20,295.53 497.20,296.30 497.20,489.68 494.20,488.90" fill="#bcc0c6" stroke="#bcc0c6" stroke-width="0.4" stroke-linejoin="round"/>
<polygon points="497.20,296.30 501.20,297.34 501.20,490.72 497.20,489.68" fill="#dce0e5" stroke="#dce0e5" stroke-width="0.4" stroke-linejoin="round"/>
<polygon points="581.30,318.14 583.80,318.79 583.80,512.28 581.30,511.62" fill="#bcc0c6" stroke="#bcc0c6" stroke-width="0.4" stroke-linejoin="round"/>
<polygon points="583.80,318.79 587.70,319.80 587.70,513.29 583.80,512.28" fill="#dce0e5" stroke="#dce0e5" stroke-width="0.4" stroke-linejoin="round"/>
<polygon points="587.70,319.80 595.40,321.80 595.40,515.30 587.70,513.29" fill="#e9eaec" stroke="#e9eaec" stroke-width="0.4" stroke-linejoin="round"/>
<polygon points="187.00,408.75 595.25,515.25 595.25,522.75 187.00,415.00" fill="#6a7070" stroke="#6a7070" stroke-width="0.4" stroke-linejoin="round"/>
<polygon points="187.00,408.75 595.25,515.25 595.25,517.00 187.00,410.50" fill="#9da0a6" stroke="#9da0a6" stroke-width="0.4" stroke-linejoin="round"/>
<polygon points="595.25,320.50 757.50,279.21 757.50,473.11 595.25,515.25" fill="#cdd0d5" stroke="#cdd0d5" stroke-width="0.4" stroke-linejoin="round"/>
<polygon points="595.25,320.50 599.60,319.39 599.60,514.12 595.25,515.25" fill="#8d9099" stroke="#8d9099" stroke-width="0.4" stroke-linejoin="round"/>
<polygon points="669.00,343.00 676.00,301.95 676.00,494.28 669.00,496.10" fill="#b0b3bd" stroke="#b0b3bd" stroke-width="0.4" stroke-linejoin="round"/>
<polygon points="600.50,512.50 612.00,484.00 612.00,510.00" fill="#dcdde2" stroke="#dcdde2" stroke-width="0.4" stroke-linejoin="round"/>
<polygon points="612.00,359.25 669.50,342.50 669.50,495.97 612.00,510.90" fill="#a9acb5" stroke="#a9acb5" stroke-width="0.4" stroke-linejoin="round"/>
<polygon points="614.00,361.40 667.20,345.90 667.20,496.56 614.00,510.38" fill="#8d9099" stroke="#8d9099" stroke-width="0.4" stroke-linejoin="round"/>
<polygon points="662.50,419.50 664.00,419.20 664.00,428.50 662.50,428.80" fill="#6a7070" stroke="#6a7070" stroke-width="0.4" stroke-linejoin="round"/>
<polygon points="676.00,299.95 679.50,299.06 679.50,493.37 676.00,494.28" fill="#8a8d95" stroke="#8a8d95" stroke-width="0.4" stroke-linejoin="round"/>
<polygon points="679.50,299.06 755.75,279.65 755.75,473.57 679.50,493.37" fill="#b0b3bd" stroke="#b0b3bd" stroke-width="0.4" stroke-linejoin="round"/>
<polygon points="755.75,279.65 757.50,279.21 757.50,473.11 755.75,473.57" fill="#8a8d95" stroke="#8a8d95" stroke-width="0.4" stroke-linejoin="round"/>
<polygon points="595.25,515.25 757.50,473.20 757.50,475.20 749.50,477.30 749.50,482.90 595.25,522.75" fill="#5d6464" stroke="#5d6464" stroke-width="0.4" stroke-linejoin="round"/>
<polygon points="595.25,515.25 757.50,473.20 757.50,475.00 595.25,517.00" fill="#8f9298" stroke="#8f9298" stroke-width="0.4" stroke-linejoin="round"/>
<polygon points="179.10,210.60 595.40,318.60 595.40,324.40 179.10,214.20" fill="#85878f" stroke="#85878f" stroke-width="0.4" stroke-linejoin="round"/>
<polygon points="185.00,210.30 595.40,318.60 595.40,320.80 185.00,212.20" fill="#b0b3bd" stroke="#b0b3bd" stroke-width="0.4" stroke-linejoin="round"/>
<polygon points="595.40,318.60 751.40,276.70 757.20,277.70 757.20,282.20 595.40,324.40" fill="#9da0a8" stroke="#9da0a8" stroke-width="0.4" stroke-linejoin="round"/>
<polygon points="595.40,318.60 751.40,276.70 757.20,277.70 757.20,280.30 595.40,321.60" fill="#b4b7c0" stroke="#b4b7c0" stroke-width="0.4" stroke-linejoin="round"/>
<polygon points="184.90,202.20 595.40,311.40 595.40,318.80 184.90,210.60" fill="#a0a3ad" stroke="#a0a3ad" stroke-width="0.4" stroke-linejoin="round"/>
<polygon points="595.40,311.40 751.20,269.20 751.40,276.80 595.40,318.80" fill="#7e818a" stroke="#7e818a" stroke-width="0.4" stroke-linejoin="round"/>
<polygon points="184.90,202.20 352.00,163.20 751.20,269.20 595.40,311.40" fill="#eeefea" stroke="#eeefea" stroke-width="0.4" stroke-linejoin="round"/>
<line x1="187.20" y1="202.90" x2="197.50" y2="205.60" stroke="#62c8c2" stroke-width="0.8" />
<line x1="742.00" y1="271.90" x2="750.00" y2="269.80" stroke="#62c8c2" stroke-width="0.8" />
<text transform="matrix(0.927 0.2466 0 1 399.9 360.70)" font-family="Liberation Sans, sans-serif" font-weight="700" font-size="61.8" fill="#0090d7" stroke="#0090d7" stroke-width="3.5" stroke-linejoin="miter">B</text>
<text transform="matrix(0.927 0.2466 0 1 447.7 373.41)" font-family="Liberation Sans, sans-serif" font-weight="700" font-size="61.8" fill="#0090d7" stroke="#0090d7" stroke-width="3.5" stroke-linejoin="miter">E</text>
<path transform="matrix(1.035 0.2753 0 1.04 491.59999999999997 388.29)" d="M 31.6,-33.6 C 27.6,-38.4 23.0,-40.5 18.2,-40.5 C 11.0,-40.5 6.3,-37.2 6.3,-32.4 C 6.3,-27.0 10.8,-25.3 18.4,-23.5 C 26.4,-21.6 31.0,-19.6 31.0,-14.0 C 31.0,-8.8 26.2,-5.5 19.2,-5.5 C 13.2,-5.5 8.6,-7.8 4.4,-12.4" fill="none" stroke="#0090d7" stroke-width="12.3" stroke-linecap="butt"/>
<path transform="matrix(1.035 0.2753 0 1.04 534.5 399.70)" d="M 31.6,-33.6 C 27.6,-38.4 23.0,-40.5 18.2,-40.5 C 11.0,-40.5 6.3,-37.2 6.3,-32.4 C 6.3,-27.0 10.8,-25.3 18.4,-23.5 C 26.4,-21.6 31.0,-19.6 31.0,-14.0 C 31.0,-8.8 26.2,-5.5 19.2,-5.5 C 13.2,-5.5 8.6,-7.8 4.4,-12.4" fill="none" stroke="#0090d7" stroke-width="12.3" stroke-linecap="butt"/>
<polygon points="328.30,193.70 405.80,215.00 405.80,215.90 328.30,194.60" fill="#f4907a" stroke="#f4907a" stroke-width="0.4" stroke-linejoin="round"/>
<polygon points="405.80,215.00 474.80,197.60 474.80,198.50 405.80,215.90" fill="#b01218" stroke="#b01218" stroke-width="0.4" stroke-linejoin="round"/>
<polygon points="328.30,193.70 405.80,215.00 474.80,197.60 397.30,176.30" fill="#e8232a" stroke="#e8232a" stroke-width="0.4" stroke-linejoin="round"/>
<circle cx="336.18" cy="194.18" r="0.55" fill="#d9c9cd"/>
<circle cx="343.52" cy="196.14" r="0.55" fill="#d9c9cd"/>
<circle cx="350.88" cy="198.10" r="0.55" fill="#d9c9cd"/>
<circle cx="358.23" cy="200.06" r="0.55" fill="#d9c9cd"/>
<circle cx="365.57" cy="202.02" r="0.55" fill="#d9c9cd"/>
<circle cx="372.93" cy="203.98" r="0.55" fill="#d9c9cd"/>
<circle cx="380.27" cy="205.94" r="0.55" fill="#d9c9cd"/>
<circle cx="387.62" cy="207.90" r="0.55" fill="#d9c9cd"/>
<circle cx="394.98" cy="209.86" r="0.55" fill="#d9c9cd"/>
<circle cx="402.32" cy="211.82" r="0.55" fill="#d9c9cd"/>
<circle cx="411.91" cy="211.41" r="0.55" fill="#d9c9cd"/>
<circle cx="419.72" cy="209.44" r="0.55" fill="#d9c9cd"/>
<circle cx="427.53" cy="207.46" r="0.55" fill="#d9c9cd"/>
<circle cx="435.34" cy="205.49" r="0.55" fill="#d9c9cd"/>
<circle cx="443.16" cy="203.51" r="0.55" fill="#d9c9cd"/>
<circle cx="450.97" cy="201.54" r="0.55" fill="#d9c9cd"/>
<circle cx="458.78" cy="199.56" r="0.55" fill="#d9c9cd"/>
<circle cx="466.59" cy="197.59" r="0.55" fill="#d9c9cd"/>
<polygon points="335.30,191.00 406.50,208.00 406.50,212.00 335.30,194.30" fill="#e8232a" stroke="#e8232a" stroke-width="0.4" stroke-linejoin="round"/>
<polygon points="335.30,191.00 406.50,208.00 406.50,210.60 335.30,193.40" fill="#f4866a" stroke="#f4866a" stroke-width="0.4" stroke-linejoin="round"/>
<polygon points="406.50,208.00 466.30,192.80 467.50,196.60 406.50,212.00" fill="#a81218" stroke="#a81218" stroke-width="0.4" stroke-linejoin="round"/>
<polygon points="406.50,208.00 466.30,192.80 466.30,194.50 406.50,209.70" fill="#e8232a" stroke="#e8232a" stroke-width="0.4" stroke-linejoin="round"/>
<polygon points="335.30,191.00 406.50,208.00 466.30,192.80 397.00,174.60" fill="#e8232a" stroke="#e8232a" stroke-width="0.4" stroke-linejoin="round"/>
<polygon points="345.10,189.30 396.20,176.30 396.20,185.50 362.50,194.60" fill="#5a0000" stroke="#5a0000" stroke-width="0.4" stroke-linejoin="round"/>
<polygon points="396.20,176.30 459.80,193.70 440.20,198.30 396.20,185.50" fill="#8a2f35" stroke="#8a2f35" stroke-width="0.4" stroke-linejoin="round"/>
<polygon points="362.50,194.60 396.20,185.50 440.20,198.30 406.20,206.50" fill="#353b3c" stroke="#353b3c" stroke-width="0.4" stroke-linejoin="round"/>
<line x1="345.10" y1="189.30" x2="406.20" y2="206.50" stroke="#f03038" stroke-width="0.9" />
<line x1="406.20" y1="206.50" x2="459.80" y2="193.70" stroke="#f03038" stroke-width="0.9" />
<polygon points="395.20,109.40 473.70,128.30 473.70,194.10 395.20,175.40" fill="#a01016" stroke="#a01016" stroke-width="0.4" stroke-linejoin="round"/>
<polygon points="395.50,109.40 473.70,128.30 472.20,129.70 397.30,111.00" fill="#e8232a" stroke="#e8232a" stroke-width="0.4" stroke-linejoin="round"/>
<polygon points="397.40,111.60 471.40,129.60 471.40,192.40 397.40,174.00" fill="#9a3c40" stroke="#9a3c40" stroke-width="0.4" stroke-linejoin="round"/>
<polygon points="404.30,118.50 465.20,133.00 465.20,183.70 404.30,169.10" fill="#7e818a" stroke="#7e818a" stroke-width="0.4" stroke-linejoin="round"/>
<polygon points="404.30,118.50 465.20,133.00 434.80,152.20" fill="#90939c" stroke="#90939c" stroke-width="0.5" stroke-linejoin="round"/>
<polygon points="404.30,118.50 404.30,169.10 434.80,152.20" fill="#7e818a" stroke="#7e818a" stroke-width="0.5" stroke-linejoin="round"/>
<polygon points="404.30,169.10 465.20,183.70 434.80,152.20" fill="#cdd0d5" stroke="#cdd0d5" stroke-width="0.5" stroke-linejoin="round"/>
<polygon points="465.20,133.00 465.20,183.70 434.80,152.20" fill="#b0b3bd" stroke="#b0b3bd" stroke-width="0.5" stroke-linejoin="round"/>
<circle cx="404.60" cy="115.95" r="0.65" fill="#f3e6e6"/>
<circle cx="412.09" cy="117.76" r="0.65" fill="#f3e6e6"/>
<circle cx="419.59" cy="119.56" r="0.65" fill="#f3e6e6"/>
<circle cx="427.08" cy="121.37" r="0.65" fill="#f3e6e6"/>
<circle cx="434.57" cy="123.18" r="0.65" fill="#f3e6e6"/>
<circle cx="442.07" cy="124.98" r="0.65" fill="#f3e6e6"/>
<circle cx="449.56" cy="126.79" r="0.65" fill="#f3e6e6"/>
<circle cx="457.06" cy="128.59" r="0.65" fill="#f3e6e6"/>
<circle cx="464.55" cy="130.40" r="0.65" fill="#f3e6e6"/>
<circle cx="404.60" cy="172.47" r="0.65" fill="#f3e6e6"/>
<circle cx="412.09" cy="174.30" r="0.65" fill="#f3e6e6"/>
<circle cx="419.59" cy="176.13" r="0.65" fill="#f3e6e6"/>
<circle cx="427.08" cy="177.97" r="0.65" fill="#f3e6e6"/>
<circle cx="434.57" cy="179.80" r="0.65" fill="#f3e6e6"/>
<circle cx="442.07" cy="181.63" r="0.65" fill="#f3e6e6"/>
<circle cx="449.56" cy="183.47" r="0.65" fill="#f3e6e6"/>
<circle cx="457.06" cy="185.30" r="0.65" fill="#f3e6e6"/>
<circle cx="464.55" cy="187.13" r="0.65" fill="#f3e6e6"/>
<circle cx="400.85" cy="119.09" r="0.65" fill="#f3e6e6"/>
<circle cx="400.85" cy="127.16" r="0.65" fill="#f3e6e6"/>
<circle cx="400.85" cy="135.23" r="0.65" fill="#f3e6e6"/>
<circle cx="400.85" cy="143.30" r="0.65" fill="#f3e6e6"/>
<circle cx="400.85" cy="151.37" r="0.65" fill="#f3e6e6"/>
<circle cx="400.85" cy="159.44" r="0.65" fill="#f3e6e6"/>
<circle cx="400.85" cy="167.51" r="0.65" fill="#f3e6e6"/>
<circle cx="468.30" cy="135.35" r="0.65" fill="#f3e6e6"/>
<circle cx="468.30" cy="143.46" r="0.65" fill="#f3e6e6"/>
<circle cx="468.30" cy="151.57" r="0.65" fill="#f3e6e6"/>
<circle cx="468.30" cy="159.68" r="0.65" fill="#f3e6e6"/>
<circle cx="468.30" cy="167.78" r="0.65" fill="#f3e6e6"/>
<circle cx="468.30" cy="175.89" r="0.65" fill="#f3e6e6"/>
<circle cx="468.30" cy="184.00" r="0.65" fill="#f3e6e6"/>
<line x1="396.50" y1="175.00" x2="471.50" y2="193.20" stroke="#f59a86" stroke-width="1.0" />
<line x1="370.70" y1="185.50" x2="399.30" y2="161.50" stroke="#d42a30" stroke-width="2.3" />
<line x1="370.90" y1="185.00" x2="399.10" y2="161.30" stroke="#f6a89c" stroke-width="1.0" />
<line x1="450.00" y1="196.40" x2="469.60" y2="179.30" stroke="#d42a30" stroke-width="2.3" />
<line x1="450.20" y1="195.90" x2="469.40" y2="179.10" stroke="#f6a89c" stroke-width="1.0" />
<polygon points="465.20,193.70 468.50,194.50 468.50,196.60 465.20,195.80" fill="#f08a70" stroke="#f08a70" stroke-width="0.4" stroke-linejoin="round"/>
<polygon points="248.00,213.70 327.50,234.80 395.80,217.60 395.80,218.50 327.50,235.70 248.00,214.60" fill="#b01218" stroke="#b01218" stroke-width="0.4" stroke-linejoin="round"/>
<polygon points="248.00,213.70 327.50,234.80 395.80,217.60 316.30,196.50" fill="#e8232a" stroke="#e8232a" stroke-width="0.4" stroke-linejoin="round"/>
<circle cx="333.38" cy="231.41" r="0.55" fill="#d9c9cd"/>
<circle cx="341.12" cy="229.44" r="0.55" fill="#d9c9cd"/>
<circle cx="348.88" cy="227.46" r="0.55" fill="#d9c9cd"/>
<circle cx="356.62" cy="225.49" r="0.55" fill="#d9c9cd"/>
<circle cx="364.38" cy="223.51" r="0.55" fill="#d9c9cd"/>
<circle cx="372.12" cy="221.54" r="0.55" fill="#d9c9cd"/>
<circle cx="379.88" cy="219.56" r="0.55" fill="#d9c9cd"/>
<circle cx="387.62" cy="217.59" r="0.55" fill="#d9c9cd"/>
<polygon points="324.00,196.50 389.50,214.70 367.60,219.80 324.00,207.30" fill="#8a2f35" stroke="#8a2f35" stroke-width="0.4" stroke-linejoin="round"/>
<line x1="324.00" y1="196.00" x2="389.50" y2="214.40" stroke="#f03038" stroke-width="1.1" />
<polygon points="324.00,207.30 370.00,220.20 332.00,232.00 324.00,230.00" fill="#353b3c" stroke="#353b3c" stroke-width="0.4" stroke-linejoin="round"/>
<line x1="326.70" y1="216.50" x2="344.00" y2="222.70" stroke="#f6b0a4" stroke-width="0.7" />
<polygon points="328.50,228.00 389.50,214.60 390.50,218.60 328.50,232.20" fill="#a81218" stroke="#a81218" stroke-width="0.4" stroke-linejoin="round"/>
<polygon points="328.50,228.00 389.50,214.60 389.70,216.40 328.50,229.90" fill="#e8232a" stroke="#e8232a" stroke-width="0.4" stroke-linejoin="round"/>
<polygon points="324.80,164.50 327.10,165.00 327.10,230.80 324.80,230.40" fill="#a01016" stroke="#a01016" stroke-width="0.4" stroke-linejoin="round"/>
<polygon points="250.00,146.40 327.10,164.80 327.10,166.50 250.00,148.10" fill="#e8232a" stroke="#e8232a" stroke-width="0.4" stroke-linejoin="round"/>
<polygon points="249.00,212.20 326.50,232.00 326.50,233.00 249.00,213.20" fill="#f27a5e" stroke="#f27a5e" stroke-width="0.4" stroke-linejoin="round"/>
<polygon points="250.00,147.90 325.10,166.20 325.10,230.40 250.00,212.00" fill="#b0b3bd" stroke="#b0b3bd" stroke-width="0.4" stroke-linejoin="round"/>
<polygon points="256.00,155.50 316.70,170.50 316.70,222.70 256.00,205.70" fill="#b4b7c0" stroke="#b4b7c0" stroke-width="0.4" stroke-linejoin="round"/>
<polygon points="256.00,155.50 316.70,170.50 281.80,188.40" fill="#e4e4e6" stroke="#e4e4e6" stroke-width="0.5" stroke-linejoin="round"/>
<polygon points="256.00,155.50 256.00,205.70 281.80,188.40" fill="#b4b7c0" stroke="#b4b7c0" stroke-width="0.5" stroke-linejoin="round"/>
<polygon points="256.00,205.70 316.70,222.70 281.80,188.40" fill="#90939c" stroke="#90939c" stroke-width="0.5" stroke-linejoin="round"/>
<polygon points="316.70,170.50 316.70,222.70 281.80,188.40" fill="#7e818a" stroke="#7e818a" stroke-width="0.5" stroke-linejoin="round"/>
<circle cx="256.77" cy="152.62" r="0.65" fill="#e4e6ea"/>
<circle cx="264.32" cy="154.47" r="0.65" fill="#e4e6ea"/>
<circle cx="271.86" cy="156.32" r="0.65" fill="#e4e6ea"/>
<circle cx="279.41" cy="158.17" r="0.65" fill="#e4e6ea"/>
<circle cx="286.95" cy="160.02" r="0.65" fill="#e4e6ea"/>
<circle cx="294.49" cy="161.88" r="0.65" fill="#e4e6ea"/>
<circle cx="302.04" cy="163.72" r="0.65" fill="#e4e6ea"/>
<circle cx="309.58" cy="165.57" r="0.65" fill="#e4e6ea"/>
<circle cx="317.13" cy="167.42" r="0.65" fill="#e4e6ea"/>
<circle cx="256.77" cy="209.83" r="0.65" fill="#e4e6ea"/>
<circle cx="264.32" cy="211.80" r="0.65" fill="#e4e6ea"/>
<circle cx="271.86" cy="213.77" r="0.65" fill="#e4e6ea"/>
<circle cx="279.41" cy="215.73" r="0.65" fill="#e4e6ea"/>
<circle cx="286.95" cy="217.70" r="0.65" fill="#e4e6ea"/>
<circle cx="294.49" cy="219.67" r="0.65" fill="#e4e6ea"/>
<circle cx="302.04" cy="221.63" r="0.65" fill="#e4e6ea"/>
<circle cx="309.58" cy="223.60" r="0.65" fill="#e4e6ea"/>
<circle cx="317.13" cy="225.57" r="0.65" fill="#e4e6ea"/>
<circle cx="253.00" cy="155.78" r="0.65" fill="#e4e6ea"/>
<circle cx="253.00" cy="163.95" r="0.65" fill="#e4e6ea"/>
<circle cx="253.00" cy="172.11" r="0.65" fill="#e4e6ea"/>
<circle cx="253.00" cy="180.27" r="0.65" fill="#e4e6ea"/>
<circle cx="253.00" cy="188.44" r="0.65" fill="#e4e6ea"/>
<circle cx="253.00" cy="196.60" r="0.65" fill="#e4e6ea"/>
<circle cx="253.00" cy="204.77" r="0.65" fill="#e4e6ea"/>
<circle cx="320.90" cy="172.51" r="0.65" fill="#e4e6ea"/>
<circle cx="320.90" cy="180.82" r="0.65" fill="#e4e6ea"/>
<circle cx="320.90" cy="189.14" r="0.65" fill="#e4e6ea"/>
<circle cx="320.90" cy="197.45" r="0.65" fill="#e4e6ea"/>
<circle cx="320.90" cy="205.76" r="0.65" fill="#e4e6ea"/>
<circle cx="320.90" cy="214.08" r="0.65" fill="#e4e6ea"/>
<circle cx="320.90" cy="222.39" r="0.65" fill="#e4e6ea"/>
<line x1="255.40" y1="149.40" x2="255.40" y2="213.20" stroke="#6f727a" stroke-width="0.7" />
<circle cx="255.30" cy="214.69" r="0.55" fill="#e3d3d7"/>
<circle cx="262.90" cy="216.69" r="0.55" fill="#e3d3d7"/>
<circle cx="270.50" cy="218.67" r="0.55" fill="#e3d3d7"/>
<circle cx="278.10" cy="220.66" r="0.55" fill="#e3d3d7"/>
<circle cx="285.70" cy="222.66" r="0.55" fill="#e3d3d7"/>
<circle cx="293.30" cy="224.64" r="0.55" fill="#e3d3d7"/>
<circle cx="300.90" cy="226.63" r="0.55" fill="#e3d3d7"/>
<circle cx="308.50" cy="228.62" r="0.55" fill="#e3d3d7"/>
<circle cx="316.10" cy="230.61" r="0.55" fill="#e3d3d7"/>
<circle cx="323.70" cy="232.60" r="0.55" fill="#e3d3d7"/>
<polygon points="546.50,252.20 624.00,273.50 624.00,274.40 546.50,253.10" fill="#f4907a" stroke="#f4907a" stroke-width="0.4" stroke-linejoin="round"/>
<polygon points="624.00,273.50 693.00,256.10 693.00,257.00 624.00,274.40" fill="#b01218" stroke="#b01218" stroke-width="0.4" stroke-linejoin="round"/>
<polygon points="546.50,252.20 624.00,273.50 693.00,256.10 615.50,234.80" fill="#e8232a" stroke="#e8232a" stroke-width="0.4" stroke-linejoin="round"/>
<circle cx="554.38" cy="252.68" r="0.55" fill="#d9c9cd"/>
<circle cx="561.73" cy="254.64" r="0.55" fill="#d9c9cd"/>
<circle cx="569.08" cy="256.60" r="0.55" fill="#d9c9cd"/>
<circle cx="576.43" cy="258.56" r="0.55" fill="#d9c9cd"/>
<circle cx="583.78" cy="260.52" r="0.55" fill="#d9c9cd"/>
<circle cx="591.12" cy="262.48" r="0.55" fill="#d9c9cd"/>
<circle cx="598.48" cy="264.44" r="0.55" fill="#d9c9cd"/>
<circle cx="605.83" cy="266.40" r="0.55" fill="#d9c9cd"/>
<circle cx="613.18" cy="268.36" r="0.55" fill="#d9c9cd"/>
<circle cx="620.53" cy="270.32" r="0.55" fill="#d9c9cd"/>
<circle cx="630.11" cy="269.91" r="0.55" fill="#d9c9cd"/>
<circle cx="637.92" cy="267.94" r="0.55" fill="#d9c9cd"/>
<circle cx="645.73" cy="265.96" r="0.55" fill="#d9c9cd"/>
<circle cx="653.54" cy="263.99" r="0.55" fill="#d9c9cd"/>
<circle cx="661.36" cy="262.01" r="0.55" fill="#d9c9cd"/>
<circle cx="669.17" cy="260.04" r="0.55" fill="#d9c9cd"/>
<circle cx="676.98" cy="258.06" r="0.55" fill="#d9c9cd"/>
<circle cx="684.79" cy="256.09" r="0.55" fill="#d9c9cd"/>
<polygon points="553.50,249.50 624.70,266.50 624.70,270.50 553.50,252.80" fill="#e8232a" stroke="#e8232a" stroke-width="0.4" stroke-linejoin="round"/>
<polygon points="553.50,249.50 624.70,266.50 624.70,269.10 553.50,251.90" fill="#f4866a" stroke="#f4866a" stroke-width="0.4" stroke-linejoin="round"/>
<polygon points="624.70,266.50 684.50,251.30 685.70,255.10 624.70,270.50" fill="#a81218" stroke="#a81218" stroke-width="0.4" stroke-linejoin="round"/>
<polygon points="624.70,266.50 684.50,251.30 684.50,253.00 624.70,268.20" fill="#e8232a" stroke="#e8232a" stroke-width="0.4" stroke-linejoin="round"/>
<polygon points="553.50,249.50 624.70,266.50 684.50,251.30 615.20,233.10" fill="#e8232a" stroke="#e8232a" stroke-width="0.4" stroke-linejoin="round"/>
<polygon points="563.30,247.80 614.40,234.80 614.40,244.00 580.70,253.10" fill="#5a0000" stroke="#5a0000" stroke-width="0.4" stroke-linejoin="round"/>
<polygon points="614.40,234.80 678.00,252.20 658.40,256.80 614.40,244.00" fill="#8a2f35" stroke="#8a2f35" stroke-width="0.4" stroke-linejoin="round"/>
<polygon points="580.70,253.10 614.40,244.00 658.40,256.80 624.40,265.00" fill="#353b3c" stroke="#353b3c" stroke-width="0.4" stroke-linejoin="round"/>
<line x1="563.30" y1="247.80" x2="624.40" y2="265.00" stroke="#f03038" stroke-width="0.9" />
<line x1="624.40" y1="265.00" x2="678.00" y2="252.20" stroke="#f03038" stroke-width="0.9" />
<polygon points="613.40,167.90 691.90,186.80 691.90,252.60 613.40,233.90" fill="#a01016" stroke="#a01016" stroke-width="0.4" stroke-linejoin="round"/>
<polygon points="613.70,167.90 691.90,186.80 690.40,188.20 615.50,169.50" fill="#e8232a" stroke="#e8232a" stroke-width="0.4" stroke-linejoin="round"/>
<polygon points="615.60,170.10 689.60,188.10 689.60,250.90 615.60,232.50" fill="#9a3c40" stroke="#9a3c40" stroke-width="0.4" stroke-linejoin="round"/>
<polygon points="622.50,177.00 683.40,191.50 683.40,242.20 622.50,227.60" fill="#7e818a" stroke="#7e818a" stroke-width="0.4" stroke-linejoin="round"/>
<polygon points="622.50,177.00 683.40,191.50 653.00,210.70" fill="#90939c" stroke="#90939c" stroke-width="0.5" stroke-linejoin="round"/>
<polygon points="622.50,177.00 622.50,227.60 653.00,210.70" fill="#7e818a" stroke="#7e818a" stroke-width="0.5" stroke-linejoin="round"/>
<polygon points="622.50,227.60 683.40,242.20 653.00,210.70" fill="#cdd0d5" stroke="#cdd0d5" stroke-width="0.5" stroke-linejoin="round"/>
<polygon points="683.40,191.50 683.40,242.20 653.00,210.70" fill="#b0b3bd" stroke="#b0b3bd" stroke-width="0.5" stroke-linejoin="round"/>
<circle cx="622.80" cy="174.45" r="0.65" fill="#f3e6e6"/>
<circle cx="630.29" cy="176.26" r="0.65" fill="#f3e6e6"/>
<circle cx="637.79" cy="178.06" r="0.65" fill="#f3e6e6"/>
<circle cx="645.28" cy="179.87" r="0.65" fill="#f3e6e6"/>
<circle cx="652.77" cy="181.68" r="0.65" fill="#f3e6e6"/>
<circle cx="660.27" cy="183.48" r="0.65" fill="#f3e6e6"/>
<circle cx="667.76" cy="185.29" r="0.65" fill="#f3e6e6"/>
<circle cx="675.26" cy="187.09" r="0.65" fill="#f3e6e6"/>
<circle cx="682.75" cy="188.90" r="0.65" fill="#f3e6e6"/>
<circle cx="622.80" cy="230.97" r="0.65" fill="#f3e6e6"/>
<circle cx="630.29" cy="232.80" r="0.65" fill="#f3e6e6"/>
<circle cx="637.79" cy="234.63" r="0.65" fill="#f3e6e6"/>
<circle cx="645.28" cy="236.47" r="0.65" fill="#f3e6e6"/>
<circle cx="652.77" cy="238.30" r="0.65" fill="#f3e6e6"/>
<circle cx="660.27" cy="240.13" r="0.65" fill="#f3e6e6"/>
<circle cx="667.76" cy="241.97" r="0.65" fill="#f3e6e6"/>
<circle cx="675.26" cy="243.80" r="0.65" fill="#f3e6e6"/>
<circle cx="682.75" cy="245.63" r="0.65" fill="#f3e6e6"/>
<circle cx="619.05" cy="177.59" r="0.65" fill="#f3e6e6"/>
<circle cx="619.05" cy="185.66" r="0.65" fill="#f3e6e6"/>
<circle cx="619.05" cy="193.73" r="0.65" fill="#f3e6e6"/>
<circle cx="619.05" cy="201.80" r="0.65" fill="#f3e6e6"/>
<circle cx="619.05" cy="209.87" r="0.65" fill="#f3e6e6"/>
<circle cx="619.05" cy="217.94" r="0.65" fill="#f3e6e6"/>
<circle cx="619.05" cy="226.01" r="0.65" fill="#f3e6e6"/>
<circle cx="686.50" cy="193.85" r="0.65" fill="#f3e6e6"/>
<circle cx="686.50" cy="201.96" r="0.65" fill="#f3e6e6"/>
<circle cx="686.50" cy="210.07" r="0.65" fill="#f3e6e6"/>
<circle cx="686.50" cy="218.18" r="0.65" fill="#f3e6e6"/>
<circle cx="686.50" cy="226.28" r="0.65" fill="#f3e6e6"/>
<circle cx="686.50" cy="234.39" r="0.65" fill="#f3e6e6"/>
<circle cx="686.50" cy="242.50" r="0.65" fill="#f3e6e6"/>
<line x1="614.70" y1="233.50" x2="689.70" y2="251.70" stroke="#f59a86" stroke-width="1.0" />
<line x1="588.90" y1="244.00" x2="617.50" y2="220.00" stroke="#d42a30" stroke-width="2.3" />
<line x1="589.10" y1="243.50" x2="617.30" y2="219.80" stroke="#f6a89c" stroke-width="1.0" />
<line x1="668.20" y1="254.90" x2="687.80" y2="237.80" stroke="#d42a30" stroke-width="2.3" />
<line x1="668.40" y1="254.40" x2="687.60" y2="237.60" stroke="#f6a89c" stroke-width="1.0" />
<polygon points="683.40,252.20 686.70,253.00 686.70,255.10 683.40,254.30" fill="#f08a70" stroke="#f08a70" stroke-width="0.4" stroke-linejoin="round"/>
<polygon points="466.70,272.60 546.20,293.70 614.50,276.50 614.50,277.40 546.20,294.60 466.70,273.50" fill="#b01218" stroke="#b01218" stroke-width="0.4" stroke-linejoin="round"/>
<polygon points="466.70,272.60 546.20,293.70 614.50,276.50 535.00,255.40" fill="#e8232a" stroke="#e8232a" stroke-width="0.4" stroke-linejoin="round"/>
<circle cx="552.08" cy="290.31" r="0.55" fill="#d9c9cd"/>
<circle cx="559.83" cy="288.34" r="0.55" fill="#d9c9cd"/>
<circle cx="567.58" cy="286.36" r="0.55" fill="#d9c9cd"/>
<circle cx="575.33" cy="284.39" r="0.55" fill="#d9c9cd"/>
<circle cx="583.08" cy="282.41" r="0.55" fill="#d9c9cd"/>
<circle cx="590.83" cy="280.44" r="0.55" fill="#d9c9cd"/>
<circle cx="598.58" cy="278.46" r="0.55" fill="#d9c9cd"/>
<circle cx="606.33" cy="276.49" r="0.55" fill="#d9c9cd"/>
<polygon points="542.70,255.40 608.20,273.60 586.30,278.70 542.70,266.20" fill="#8a2f35" stroke="#8a2f35" stroke-width="0.4" stroke-linejoin="round"/>
<line x1="542.70" y1="254.90" x2="608.20" y2="273.30" stroke="#f03038" stroke-width="1.1" />
<polygon points="542.70,266.20 588.70,279.10 550.70,290.90 542.70,288.90" fill="#353b3c" stroke="#353b3c" stroke-width="0.4" stroke-linejoin="round"/>
<line x1="545.40" y1="275.40" x2="562.70" y2="281.60" stroke="#f6b0a4" stroke-width="0.7" />
<polygon points="547.20,286.90 608.20,273.50 609.20,277.50 547.20,291.10" fill="#a81218" stroke="#a81218" stroke-width="0.4" stroke-linejoin="round"/>
<polygon points="547.20,286.90 608.20,273.50 608.40,275.30 547.20,288.80" fill="#e8232a" stroke="#e8232a" stroke-width="0.4" stroke-linejoin="round"/>
<polygon points="543.50,223.40 545.80,223.90 545.80,289.70 543.50,289.30" fill="#a01016" stroke="#a01016" stroke-width="0.4" stroke-linejoin="round"/>
<polygon points="468.70,205.30 545.80,223.70 545.80,225.40 468.70,207.00" fill="#e8232a" stroke="#e8232a" stroke-width="0.4" stroke-linejoin="round"/>
<polygon points="467.70,271.10 545.20,290.90 545.20,291.90 467.70,272.10" fill="#f27a5e" stroke="#f27a5e" stroke-width="0.4" stroke-linejoin="round"/>
<polygon points="468.70,206.80 543.80,225.10 543.80,289.30 468.70,270.90" fill="#b0b3bd" stroke="#b0b3bd" stroke-width="0.4" stroke-linejoin="round"/>
<polygon points="474.70,214.40 535.40,229.40 535.40,281.60 474.70,264.60" fill="#b4b7c0" stroke="#b4b7c0" stroke-width="0.4" stroke-linejoin="round"/>
<polygon points="474.70,214.40 535.40,229.40 500.50,247.30" fill="#e4e4e6" stroke="#e4e4e6" stroke-width="0.5" stroke-linejoin="round"/>
<polygon points="474.70,214.40 474.70,264.60 500.50,247.30" fill="#b4b7c0" stroke="#b4b7c0" stroke-width="0.5" stroke-linejoin="round"/>
<polygon points="474.70,264.60 535.40,281.60 500.50,247.30" fill="#90939c" stroke="#90939c" stroke-width="0.5" stroke-linejoin="round"/>
<polygon points="535.40,229.40 535.40,281.60 500.50,247.30" fill="#7e818a" stroke="#7e818a" stroke-width="0.5" stroke-linejoin="round"/>
<circle cx="475.47" cy="211.53" r="0.65" fill="#e4e6ea"/>
<circle cx="483.02" cy="213.38" r="0.65" fill="#e4e6ea"/>
<circle cx="490.56" cy="215.23" r="0.65" fill="#e4e6ea"/>
<circle cx="498.11" cy="217.08" r="0.65" fill="#e4e6ea"/>
<circle cx="505.65" cy="218.93" r="0.65" fill="#e4e6ea"/>
<circle cx="513.19" cy="220.78" r="0.65" fill="#e4e6ea"/>
<circle cx="520.74" cy="222.62" r="0.65" fill="#e4e6ea"/>
<circle cx="528.28" cy="224.47" r="0.65" fill="#e4e6ea"/>
<circle cx="535.83" cy="226.32" r="0.65" fill="#e4e6ea"/>
<circle cx="475.47" cy="268.73" r="0.65" fill="#e4e6ea"/>
<circle cx="483.02" cy="270.70" r="0.65" fill="#e4e6ea"/>
<circle cx="490.56" cy="272.67" r="0.65" fill="#e4e6ea"/>
<circle cx="498.11" cy="274.63" r="0.65" fill="#e4e6ea"/>
<circle cx="505.65" cy="276.60" r="0.65" fill="#e4e6ea"/>
<circle cx="513.19" cy="278.57" r="0.65" fill="#e4e6ea"/>
<circle cx="520.74" cy="280.53" r="0.65" fill="#e4e6ea"/>
<circle cx="528.28" cy="282.50" r="0.65" fill="#e4e6ea"/>
<circle cx="535.83" cy="284.47" r="0.65" fill="#e4e6ea"/>
<circle cx="471.70" cy="214.68" r="0.65" fill="#e4e6ea"/>
<circle cx="471.70" cy="222.85" r="0.65" fill="#e4e6ea"/>
<circle cx="471.70" cy="231.01" r="0.65" fill="#e4e6ea"/>
<circle cx="471.70" cy="239.18" r="0.65" fill="#e4e6ea"/>
<circle cx="471.70" cy="247.34" r="0.65" fill="#e4e6ea"/>
<circle cx="471.70" cy="255.50" r="0.65" fill="#e4e6ea"/>
<circle cx="471.70" cy="263.67" r="0.65" fill="#e4e6ea"/>
<circle cx="539.60" cy="231.41" r="0.65" fill="#e4e6ea"/>
<circle cx="539.60" cy="239.72" r="0.65" fill="#e4e6ea"/>
<circle cx="539.60" cy="248.04" r="0.65" fill="#e4e6ea"/>
<circle cx="539.60" cy="256.35" r="0.65" fill="#e4e6ea"/>
<circle cx="539.60" cy="264.66" r="0.65" fill="#e4e6ea"/>
<circle cx="539.60" cy="272.98" r="0.65" fill="#e4e6ea"/>
<circle cx="539.60" cy="281.29" r="0.65" fill="#e4e6ea"/>
<line x1="474.10" y1="208.30" x2="474.10" y2="272.10" stroke="#6f727a" stroke-width="0.7" />
<circle cx="474.00" cy="273.59" r="0.55" fill="#e3d3d7"/>
<circle cx="481.60" cy="275.58" r="0.55" fill="#e3d3d7"/>
<circle cx="489.20" cy="277.57" r="0.55" fill="#e3d3d7"/>
<circle cx="496.80" cy="279.56" r="0.55" fill="#e3d3d7"/>
<circle cx="504.40" cy="281.56" r="0.55" fill="#e3d3d7"/>
<circle cx="512.00" cy="283.54" r="0.55" fill="#e3d3d7"/>
<circle cx="519.60" cy="285.53" r="0.55" fill="#e3d3d7"/>
<circle cx="527.20" cy="287.52" r="0.55" fill="#e3d3d7"/>
<circle cx="534.80" cy="289.51" r="0.55" fill="#e3d3d7"/>
<circle cx="542.40" cy="291.50" r="0.55" fill="#e3d3d7"/>
</g>
<text x="186" y="64.5" font-family="Liberation Sans, sans-serif" font-weight="700" font-style="italic" font-size="24.6" fill="#1e3247" stroke="#1e3247" stroke-width="0.8" stroke-linejoin="round" textLength="212" lengthAdjust="spacingAndGlyphs">DUAL-VENT open</text>
<text x="892" y="64.5" font-family="Liberation Sans, sans-serif" font-weight="700" font-style="italic" font-size="24.6" fill="#1e3247" stroke="#1e3247" stroke-width="0.8" stroke-linejoin="round" textLength="240" lengthAdjust="spacingAndGlyphs">DUAL-VENT X Open</text>
</svg>
</body></html>
